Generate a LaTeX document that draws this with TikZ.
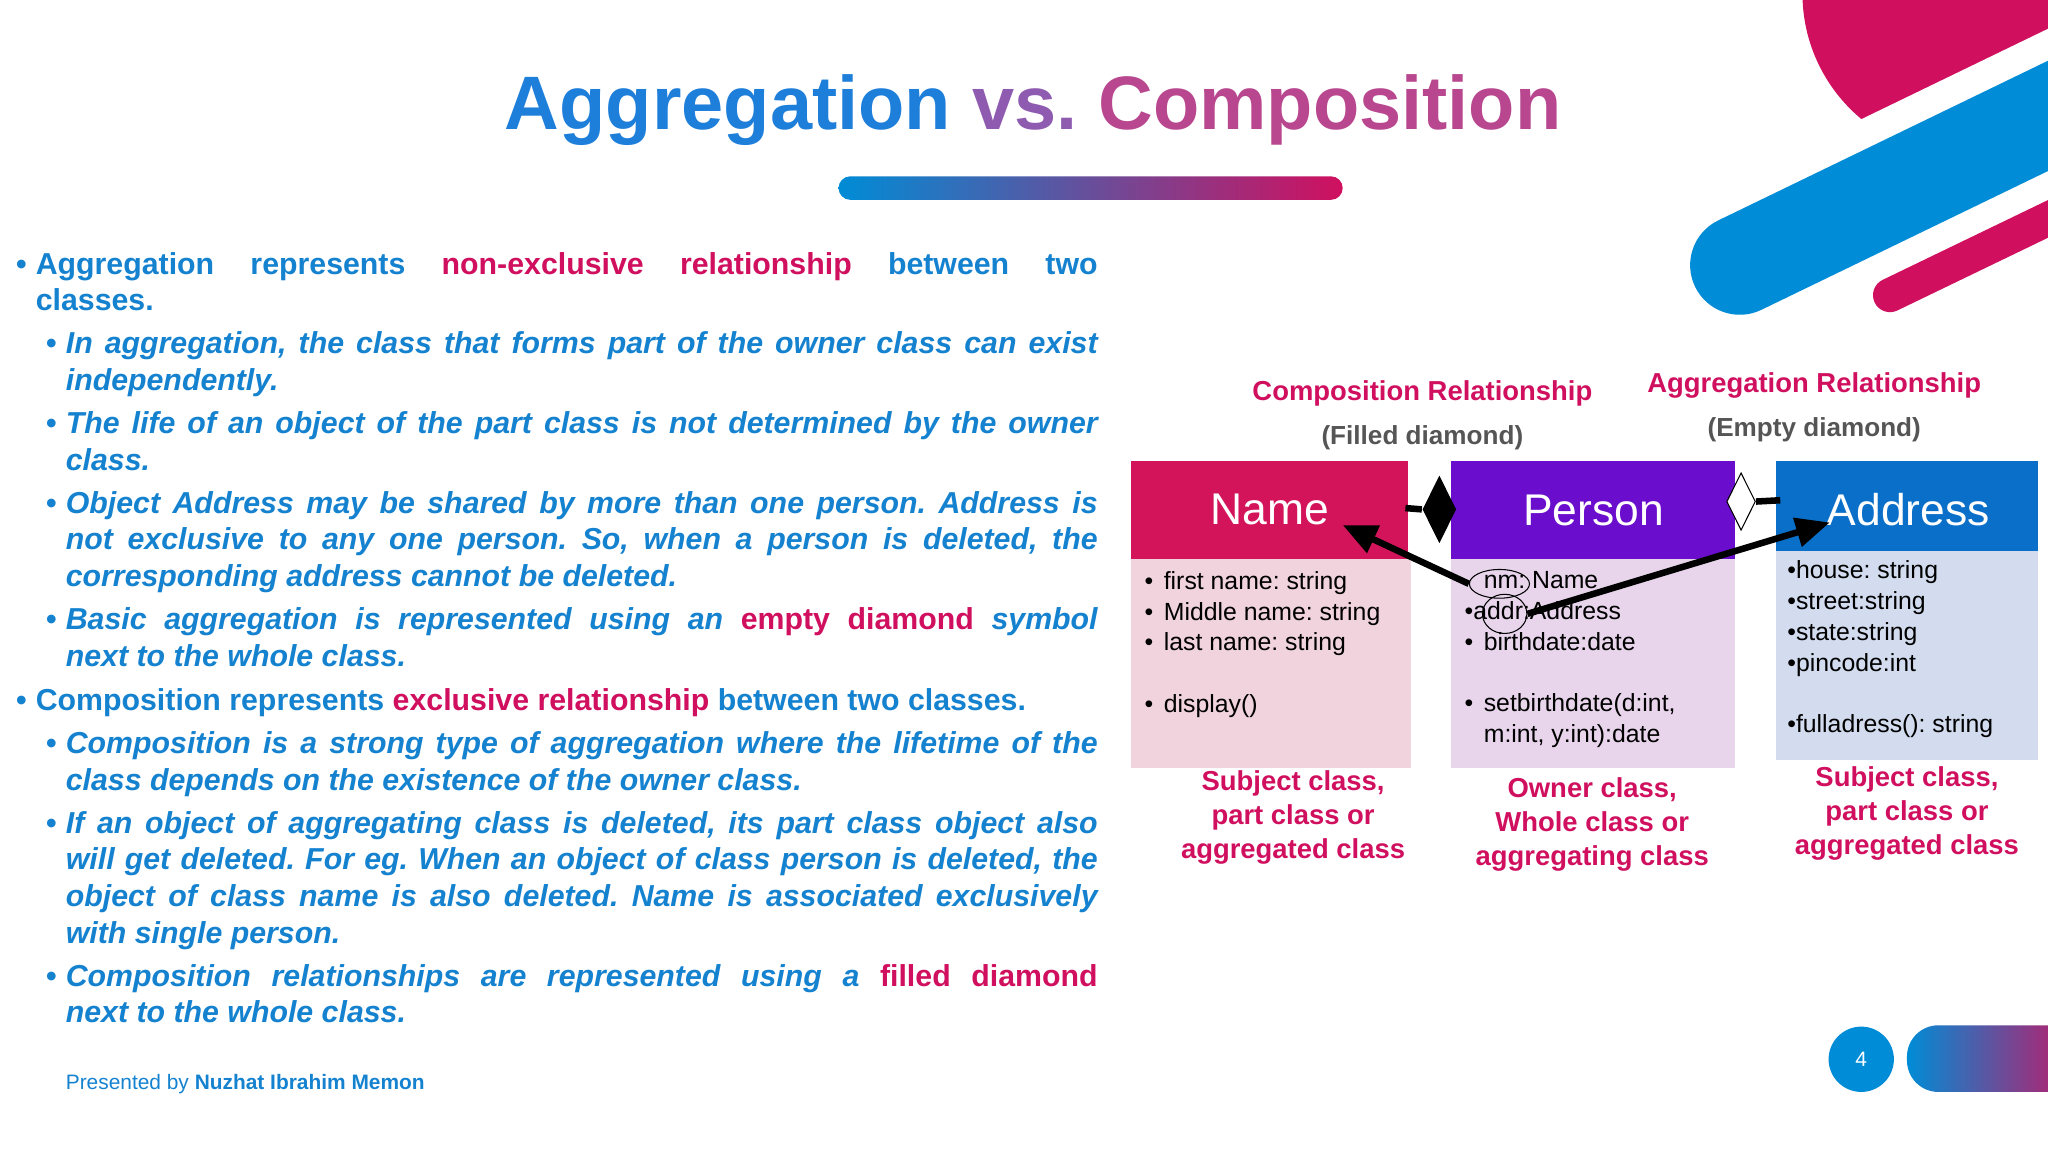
\documentclass[tikz,border=0pt]{standalone}
\usepackage{fontspec}
\setmainfont{Liberation Sans}
\usetikzlibrary{arrows.meta,shapes.geometric}
\definecolor{cblue}{HTML}{1582D0}
\definecolor{cpink}{HTML}{D0105F}
\definecolor{tblue}{HTML}{1E7FDB}
\definecolor{tpurp}{HTML}{8E5BB0}
\definecolor{tpink}{HTML}{B8478F}
\definecolor{nameh}{HTML}{D4145A}
\definecolor{nameb}{HTML}{F0D3DC}
\definecolor{persh}{HTML}{6A0DCC}
\definecolor{persb}{HTML}{E8D5EC}
\definecolor{addrh}{HTML}{0A6FC8}
\definecolor{addrb}{HTML}{D2DCEE}
\definecolor{deco}{HTML}{008CD6}
\definecolor{gtext}{HTML}{555555}
\hyphenpenalty=10000 \exhyphenpenalty=10000 \frenchspacing
\tikzset{
 para/.style={anchor=north west,inner sep=0pt,align=justify,text=cblue,font=\fontsize{11.6}{14}\selectfont\bfseries},
 lone/.style={para,text width=406.5pt},
 ltwo/.style={para,text width=395pt,font=\fontsize{11.6}{14}\selectfont\bfseries\itshape},
 bul/.style={anchor=north west,inner sep=0pt,text=cblue,font=\fontsize{11.6}{14}\selectfont\bfseries},
 hdr/.style={text=white,font=\fontsize{17}{20}\selectfont},
 item/.style={anchor=north west,inner sep=0pt,align=left,font=\fontsize{9.5}{11.8}\selectfont},
 sub/.style={text=cpink,align=center,font=\fontsize{10.5}{13}\selectfont\bfseries},
 rel/.style={text=cpink,font=\fontsize{10.5}{13}\selectfont\bfseries},
 reln/.style={text=gtext,font=\fontsize{10}{12}\selectfont\bfseries},
 arr/.style={line width=2.5pt,-{Triangle[length=13pt,width=11pt]}}
}
\begin{document}
\begin{tikzpicture}[x=0.5pt,y=-0.5pt]
\useasboundingbox (0,0) rectangle (1568,882);
\fill[white] (0,0) rectangle (1568,882);
% decoration top right
\begin{scope}
\clip (0,0) rectangle (1568,882);
\fill[cpink] (1505,-5) circle[radius=125];
\draw[white,line width=60pt,line cap=round] (1332,203) -- (1650,49);
\draw[deco,line width=38pt,line cap=round] (1332,203) -- (1650,49);
\draw[cpink,line width=13pt,line cap=round] (1447,226) -- (1650,128);
\end{scope}
% title
\node (title) at (791,84) {\fontsize{29}{34}\selectfont\bfseries\textcolor{tblue}{Aggregation} \textcolor{tpurp}{vs.} \textcolor{tpink}{Composition}};
\shade[left color=deco,right color=cpink,rounded corners=4.5pt] (642,135) rectangle (1028,153);
% left text
\node[bul] (b1) at (12,190) {\strut•};
\node[lone] (p1) at (27,190) {\strut Aggregation represents \textcolor{cpink}{non-exclusive relationship} between two\linebreak classes.};
\node[bul] (b2) at (35,251) {\strut•};
\node[ltwo] (s1) at (50,251) {\strut In aggregation, the class that forms part of the owner class can exist independently.};
\node[bul] (b3) at (35,312) {\strut•};
\node[ltwo] (s2) at (50,312) {\strut The life of an object of the part class is not determined by the owner class.};
\node[bul] (b4) at (35,373) {\strut•};
\node[ltwo] (s3) at (50,373) {\strut Object Address may be shared by more than one person. Address is not exclusive to any one person. So, when a person is deleted, the corresponding address cannot be deleted.};
\node[bul] (b5) at (35,462) {\strut•};
\node[ltwo] (s4) at (50,462) {\strut Basic aggregation is represented using an \textcolor{cpink}{\upshape empty diamond} symbol\linebreak next to the whole class.};
\node[bul] (b6) at (12,524) {\strut•};
\node[lone] (p2) at (27,524) {\strut Composition represents \textcolor{cpink}{exclusive relationship} between two classes.};
\node[bul] (b7) at (35,557) {\strut•};
\node[ltwo] (s5) at (50,557) {\strut Composition is a strong type of aggregation where the lifetime of the class depends on the existence of the owner class.};
\node[bul] (b8) at (35,618) {\strut•};
\node[ltwo] (s6) at (50,618) {\strut If an object of aggregating class is deleted, its part class object also\linebreak will get deleted. For eg. When an object of class person is deleted, the\linebreak object of class name is also deleted. Name is associated exclusively\linebreak with single person.};
\node[bul] (b9) at (35,735) {\strut•};
\node[ltwo] (s7) at (50,735) {\strut Composition relationships are represented using a \textcolor{cpink}{\upshape filled diamond}\linebreak next to the whole class.};
\node[anchor=west,inner sep=0pt,text=cblue,font=\fontsize{8}{10}\selectfont] (foot) at (50,830) {Presented by \textbf{Nuzhat Ibrahim Memon}};
% relation labels
\node[rel] (cr) at (1089,301) {Composition Relationship};
\node[reln] (cf) at (1089,335) {(Filled diamond)};
\node[rel] (ar) at (1389,295) {Aggregation Relationship};
\node[reln] (af) at (1389,329) {(Empty diamond)};
% boxes
\fill[nameb] (866,428) rectangle (1080,588);
\fill[nameh] (866,353) rectangle (1078,428);
\fill[persb] (1111,428) rectangle (1328,588);
\fill[persh] (1111,353) rectangle (1328,428);
\fill[addrb] (1360,422) rectangle (1560,582);
\fill[addrh] (1360,353) rectangle (1560,422);
\node[hdr] (nameH) at (972,390) {Name};
\node[hdr] (persH) at (1220,391) {Person};
\node[hdr] (addrH) at (1461,390) {Address};
\node[item] (nameI) at (876,437) {•\hspace{4pt}first name: string\\[0pt]•\hspace{4pt}Middle name: string\\•\hspace{4pt}last name: string\\[11.8pt]•\hspace{4pt}display()};
\node[item] (persI) at (1121,437) {\phantom{•}\hspace{4pt}nm: Name\\•addr:Address\\•\hspace{4pt}birthdate:date\\[11.8pt]•\hspace{4pt}setbirthdate(d:int,\\\phantom{•}\hspace{4pt}m:int, y:int):date};
\node[item] (addrI) at (1368,429) {•house: string\\•street:string\\•state:string\\•pincode:int\\[11.8pt]•fulladress(): string};
\node[sub] (ns) at (990,626) {Subject class,\\part class or\\aggregated class};
\node[sub] (ps) at (1219,631) {Owner class,\\Whole class or\\aggregating class};
\node[sub] (as) at (1460,623) {Subject class,\\part class or\\aggregated class};
% connectors
\node[draw,ellipse,thin,minimum width=23pt,minimum height=11pt,inner sep=0pt] (nmE) at (1148,447) {};
\node[draw,ellipse,thin,minimum width=17pt,minimum height=15pt,inner sep=0pt] (adE) at (1152,470) {};
\node[diamond,fill=black,minimum width=13pt,minimum height=26pt,inner sep=0pt] (fd) at (1102,390) {};
\node[diamond,draw=black,fill=white,thin,minimum width=11pt,minimum height=22pt,inner sep=0pt] (ed) at (1333,384) {};
\coordinate (nameR) at (1076,389);
\coordinate (addrL) at (1363,383);
\draw[line width=2.5pt] (nameR) -- (fd.west);
\draw[line width=2.5pt] (ed.east) -- (addrL);
\coordinate (nameT) at (1028,402);
\coordinate (addrT) at (1401,400);
\draw[arr] (nmE.west) -- (nameT);
\draw[arr] (adE.east) -- (addrT);
% page number
\node[circle,fill=deco,minimum size=25pt,text=white,font=\fontsize{8}{10}\selectfont] (pg) at (1425,811) {4};
\shade[left color=deco,right color=cpink,rounded corners=12pt] (1460,785) rectangle (1600,836);
\end{tikzpicture}
\end{document}
